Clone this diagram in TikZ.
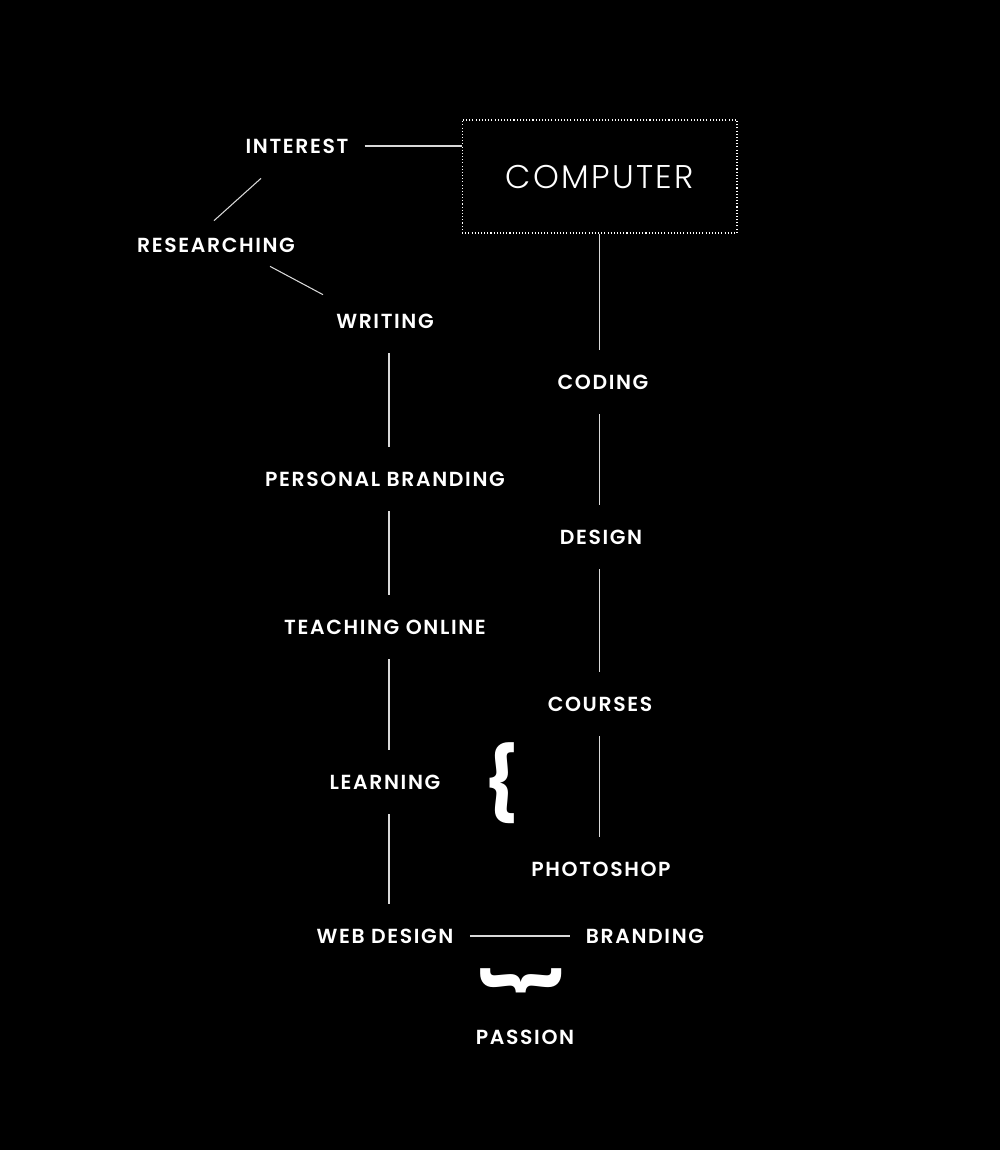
\documentclass[tikz,border=0pt]{standalone}
\usepackage{fontspec}
\usetikzlibrary{calc}
\newfontfamily\labelfont{Poppins SemiBold}[LetterSpace=8]
\newfontfamily\boxfont{Poppins Light}[LetterSpace=7]
\newfontfamily\bracefont{Poppins Bold}

\begin{document}
\begin{tikzpicture}[
    x=0.02cm, y=-0.02cm,
    lbl/.style={text=white, inner xsep=0.32cm, minimum height=1.28cm, font=\labelfont\fontsize{11.6}{13}\selectfont},
    bigbox/.style={draw=white, dash pattern=on 0.6pt off 1.2pt, line width=0.6pt, minimum width=5.5cm, minimum height=2.26cm, text=white, font=\boxfont\fontsize{18.7}{22}\selectfont},
    link/.style={draw=white!85!black, line width=0.6pt},
    curly/.style={text=white, inner sep=0pt, font=\bracefont\fontsize{41}{41}\selectfont}
]
\fill[black] (0,0) rectangle (1000,1150);
\node[bigbox] (computer) at (599.5,176.5) {COMPUTER};
% left branch
\node[lbl] (interest) at (297,146) {INTEREST};
\node[lbl] (research) at (216,245) {RESEARCHING};
\node[lbl] (writing) at (385,321) {WRITING};
\node[lbl] (pbrand) at (385,479) {PERSONAL BRANDING};
\node[lbl] (teaching) at (385,627) {TEACHING ONLINE};
\node[lbl] (learning) at (385,782) {LEARNING};
\node[lbl] (webdesign) at (385,936) {WEB DESIGN};
% right branch
\node[lbl] (coding) at (603,382) {CODING};
\node[lbl] (design) at (601,537) {DESIGN};
\node[lbl] (courses) at (600,704) {COURSES};
\node[lbl] (photoshop) at (601,869) {PHOTOSHOP};
\node[lbl] (branding) at (645,936) {BRANDING};
% braces
\node[curly] (lbrace) at (501,783) {\{};
\node[curly, rotate=90] (ubrace) at (521,982) {\{};
\node[lbl] (passion) at (525,1037) {PASSION};

\draw[link] (interest.east) -- (interest.east -| computer.west);
\draw[link] ($(interest.south)+(-36,0)$) -- ($(research.north)+(-2,8)$);
\draw[link] ($(research.south)+(54,-11)$) -- ($(writing.north)+(-62,6)$);
\draw[link] ([xshift=0.08cm]writing.south) -- ([xshift=0.08cm]pbrand.north);
\draw[link] ([xshift=0.08cm]pbrand.south) -- ([xshift=0.08cm]teaching.north);
\draw[link] ([xshift=0.08cm]teaching.south) -- ([xshift=0.08cm]learning.north);
\draw[link] ([xshift=0.08cm]learning.south) -- ([xshift=0.08cm]webdesign.north);
\draw[link] (computer.south) -- (computer.south |- coding.north);
\draw[link] (computer.south |- coding.south) -- (computer.south |- design.north);
\draw[link] (computer.south |- design.south) -- (computer.south |- courses.north);
\draw[link] (computer.south |- courses.south) -- (computer.south |- photoshop.north);
\draw[link] (webdesign.east) -- (branding.west);
\end{tikzpicture}
\end{document}
